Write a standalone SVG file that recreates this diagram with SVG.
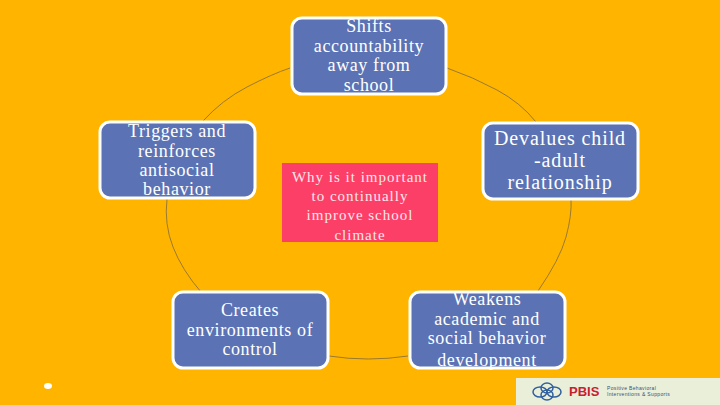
<svg xmlns="http://www.w3.org/2000/svg" width="720" height="405" viewBox="0 0 720 405">
<style>
.n{fill:#5b73b4;stroke:#fff;stroke-width:3}
.t{font-family:"Liberation Serif","DejaVu Serif",serif;fill:#fff;text-anchor:middle;font-size:18px;letter-spacing:.6px}
.c{fill:none;stroke:#806a3c;stroke-width:.8}
.l{font-family:"Liberation Sans",sans-serif;fill:#34507a;font-size:5px;letter-spacing:.35px}
</style>
<rect width="720" height="405" fill="#ffb500"/>
<g id="connectors">
<path class="c" d="M447 68Q473 77 497 90T536 122"/>
<path class="c" d="M571 199Q572 215 566 237T538 291"/>
<path class="c" d="M408 356Q368 362 329 356"/>
<path class="c" d="M201 292Q182 270 173 247T167 199"/>
<path class="c" d="M203 121Q222 100 247 87T290 68"/>
</g>
<g id="n1"><rect class="n" x="292" y="18" width="154" height="76" rx="10"/>
<text class="t"><tspan x="369" y="32">Shifts</tspan><tspan x="369" y="52">accountability</tspan><tspan x="369" y="71">away from</tspan><tspan x="369" y="91">school</tspan></text></g>
<g id="n2"><rect class="n" x="483" y="123" width="155" height="76" rx="10"/>
<text class="t" style="font-size:20px;letter-spacing:.9px"><tspan x="560" y="145">Devalues child</tspan><tspan x="560" y="167">-adult</tspan><tspan x="560" y="189">relationship</tspan></text></g>
<g id="n3"><rect class="n" x="410" y="292" width="155" height="76" rx="10"/>
<text class="t"><tspan x="487" y="305">Weakens</tspan><tspan x="487" y="325">academic and</tspan><tspan x="487" y="344">social behavior</tspan><tspan x="487" y="366">development</tspan></text></g>
<g id="n4"><rect class="n" x="173" y="292" width="155" height="76" rx="10"/>
<text class="t"><tspan x="250" y="316">Creates</tspan><tspan x="250" y="336">environments of</tspan><tspan x="250" y="355">control</tspan></text></g>
<g id="n5"><rect class="n" x="100" y="122" width="155" height="76" rx="10"/>
<text class="t"><tspan x="177" y="137">Triggers and</tspan><tspan x="177" y="157">reinforces</tspan><tspan x="177" y="176">antisocial</tspan><tspan x="177" y="195">behavior</tspan></text></g>
<g id="center"><rect x="282" y="163" width="156" height="79" fill="#fb3f67"/>
<text class="t" style="font-size:15px;letter-spacing:1px;fill:#ffe6ea"><tspan x="360" y="182">Why is it important</tspan><tspan x="360" y="201">to continually</tspan><tspan x="360" y="220">improve school</tspan><tspan x="360" y="240">climate</tspan></text></g>
<ellipse cx="48" cy="386" rx="4" ry="3" fill="#fff"/>
<g id="logo"><rect x="516" y="378" width="204" height="27" fill="#e9efd9"/>
<g fill="none" stroke="#2f5f9f" stroke-width="1.5"><ellipse cx="540" cy="392" rx="7" ry="5"/><ellipse cx="554" cy="392" rx="7" ry="5"/><ellipse cx="547" cy="388" rx="6" ry="5"/><ellipse cx="547" cy="395" rx="6" ry="5"/></g>
<text x="569" y="396" font-family="Liberation Sans,sans-serif" font-weight="700" font-size="13" fill="#c8202c">PBIS</text>
<text class="l" x="607" y="390">Positive Behavioral</text>
<text class="l" x="607" y="396">Interventions &amp; Supports</text></g>
</svg>
